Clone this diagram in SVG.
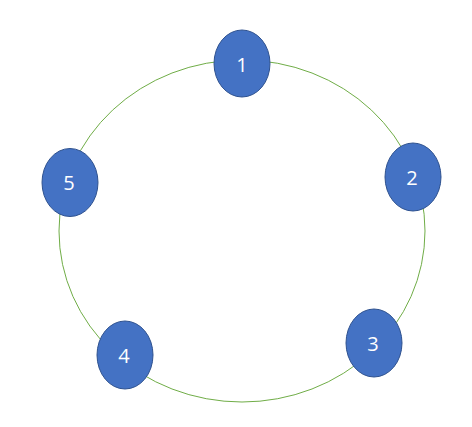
<svg xmlns="http://www.w3.org/2000/svg" width="472" height="427" viewBox="0 0 472 427">
<style>
.node{fill:#4472C4;stroke:#2F528F;stroke-width:1}
.lbl{fill:#FFFFFF;font-family:"Open Sans","Liberation Sans",sans-serif;font-size:20px;text-anchor:middle;dominant-baseline:central}
.ring{fill:none;stroke:#70AD47;stroke-width:1}
</style>
<rect width="472" height="427" fill="#FFFFFF"/>
<g id="connectors">
<ellipse class="ring" cx="242" cy="231" rx="183" ry="171"/>
</g>
<g id="node1"><ellipse class="node" cx="242" cy="63.5" rx="28" ry="33.5"/><text class="lbl" x="242" y="64">1</text></g>
<g id="node2"><ellipse class="node" cx="413" cy="177" rx="28" ry="34"/><text class="lbl" x="412" y="177.5">2</text></g>
<g id="node3"><ellipse class="node" cx="374" cy="343" rx="28" ry="34"/><text class="lbl" x="373" y="343">3</text></g>
<g id="node4"><ellipse class="node" cx="125" cy="355" rx="28" ry="34"/><text class="lbl" x="124" y="355">4</text></g>
<g id="node5"><ellipse class="node" cx="70" cy="182.5" rx="28" ry="34"/><text class="lbl" x="69" y="182.5">5</text></g>
</svg>
